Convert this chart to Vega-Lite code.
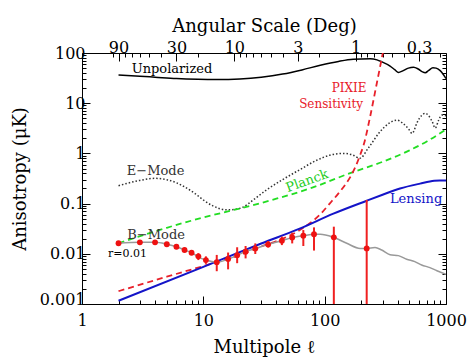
{
  "$schema": "https://vega.github.io/schema/vega-lite/v6.json",
  "width": 364,
  "height": 251,
  "autosize": "none",
  "padding": {"left": 82, "top": 53, "right": 28, "bottom": 58},
  "background": "white",
  "config": {
    "view": {"stroke": "black", "strokeWidth": 1},
    "font": "DejaVu Serif",
    "axis": {"grid": false, "domain": false, "labelFont": "DejaVu Serif", "titleFont": "DejaVu Serif", "labelFontSize": 16, "titleFontSize": 18, "titleFontWeight": "normal", "labelColor": "black", "titleColor": "black", "tickColor": "black", "labelOverlap": false, "labelFlush": false, "format": "~g"}
  },
  "datasets": {
    "tt": [
      {"l": 2, "v": 36.5}, {"l": 3, "v": 34.5}, {"l": 4, "v": 33}, {"l": 6, "v": 31}, {"l": 9, "v": 30}, {"l": 13, "v": 29.7}, {"l": 20, "v": 30.5}, {"l": 30, "v": 33}, {"l": 45, "v": 38}, {"l": 65, "v": 46}, {"l": 92, "v": 57}, {"l": 130, "v": 68}, {"l": 172, "v": 75}, {"l": 237, "v": 77}, {"l": 270, "v": 73}, {"l": 295, "v": 67}, {"l": 346, "v": 55}, {"l": 380, "v": 46}, {"l": 406, "v": 41}, {"l": 440, "v": 44}, {"l": 490, "v": 50}, {"l": 540, "v": 52}, {"l": 590, "v": 48}, {"l": 640, "v": 42}, {"l": 675, "v": 40.5}, {"l": 720, "v": 45}, {"l": 780, "v": 51}, {"l": 830, "v": 50}, {"l": 900, "v": 44}, {"l": 960, "v": 36}, {"l": 1000, "v": 31}
    ],
    "ee": [
      {"l": 2, "v": 0.227}, {"l": 3, "v": 0.29}, {"l": 4, "v": 0.319}, {"l": 5, "v": 0.30}, {"l": 6, "v": 0.26}, {"l": 7, "v": 0.215}, {"l": 8.5, "v": 0.16}, {"l": 10, "v": 0.118}, {"l": 12, "v": 0.09}, {"l": 15.6, "v": 0.075}, {"l": 19, "v": 0.078}, {"l": 21, "v": 0.084}, {"l": 26, "v": 0.12}, {"l": 33, "v": 0.186}, {"l": 45, "v": 0.30}, {"l": 62, "v": 0.47}, {"l": 85, "v": 0.72}, {"l": 110, "v": 0.92}, {"l": 142, "v": 1.0}, {"l": 170, "v": 0.93}, {"l": 195, "v": 0.8}, {"l": 230, "v": 1.3}, {"l": 286, "v": 2.7}, {"l": 340, "v": 4.0}, {"l": 392, "v": 4.6}, {"l": 440, "v": 4.0}, {"l": 490, "v": 3.1}, {"l": 525, "v": 2.5}, {"l": 580, "v": 4.2}, {"l": 630, "v": 5.7}, {"l": 675, "v": 6.3}, {"l": 720, "v": 5.6}, {"l": 770, "v": 4.3}, {"l": 815, "v": 3.2}, {"l": 870, "v": 4.6}, {"l": 923, "v": 5.8}, {"l": 1000, "v": 5.6}
    ],
    "planck": [
      {"l": 2, "v": 0.0162}, {"l": 5, "v": 0.033}, {"l": 10, "v": 0.053}, {"l": 20, "v": 0.08}, {"l": 40, "v": 0.125}, {"l": 80, "v": 0.21}, {"l": 160, "v": 0.40}, {"l": 300, "v": 0.68}, {"l": 500, "v": 1.15}, {"l": 700, "v": 1.75}, {"l": 1000, "v": 3.0}
    ],
    "pixie": [
      {"l": 2, "v": 0.0018}, {"l": 5, "v": 0.0035}, {"l": 10, "v": 0.0057}, {"l": 20, "v": 0.0095}, {"l": 30, "v": 0.014}, {"l": 45, "v": 0.020}, {"l": 60, "v": 0.028}, {"l": 75, "v": 0.040}, {"l": 90, "v": 0.058}, {"l": 110, "v": 0.10}, {"l": 130, "v": 0.16}, {"l": 150, "v": 0.25}, {"l": 165, "v": 0.36}, {"l": 180, "v": 0.55}, {"l": 195, "v": 0.9}, {"l": 210, "v": 1.5}, {"l": 237, "v": 5.4}, {"l": 269, "v": 25}, {"l": 305, "v": 115}
    ],
    "lensing": [
      {"l": 2, "v": 0.00116}, {"l": 10, "v": 0.0055}, {"l": 30, "v": 0.016}, {"l": 63, "v": 0.032}, {"l": 118, "v": 0.063}, {"l": 222, "v": 0.114}, {"l": 300, "v": 0.15}, {"l": 418, "v": 0.2}, {"l": 611, "v": 0.25}, {"l": 800, "v": 0.285}, {"l": 890, "v": 0.29}, {"l": 1000, "v": 0.29}
    ],
    "bb": [
      {"l": 2, "v": 0.0162}, {"l": 3, "v": 0.0169}, {"l": 4, "v": 0.0169}, {"l": 5, "v": 0.0155}, {"l": 6, "v": 0.0138}, {"l": 7, "v": 0.0119}, {"l": 8, "v": 0.0105}, {"l": 9, "v": 0.0088}, {"l": 10.5, "v": 0.0075}, {"l": 12.9, "v": 0.0068}, {"l": 16, "v": 0.0078}, {"l": 19, "v": 0.0093}, {"l": 22, "v": 0.011}, {"l": 27, "v": 0.0127}, {"l": 34, "v": 0.0154}, {"l": 44, "v": 0.0182}, {"l": 54, "v": 0.021}, {"l": 67, "v": 0.023}, {"l": 82, "v": 0.0245}, {"l": 92, "v": 0.0245}, {"l": 118, "v": 0.0213}, {"l": 152, "v": 0.0162}, {"l": 196, "v": 0.0128}, {"l": 222, "v": 0.0128}, {"l": 260, "v": 0.0133}, {"l": 295, "v": 0.0119}, {"l": 346, "v": 0.0096}, {"l": 405, "v": 0.0092}, {"l": 474, "v": 0.0078}, {"l": 553, "v": 0.0070}, {"l": 630, "v": 0.0060}, {"l": 737, "v": 0.0053}, {"l": 842, "v": 0.0046}, {"l": 1000, "v": 0.0039}
    ],
    "points": [
      {"l": 2, "v": 0.0162, "lo": 0.0158, "hi": 0.0166},
      {"l": 3, "v": 0.0169, "lo": 0.0165, "hi": 0.0173},
      {"l": 4, "v": 0.0169, "lo": 0.0165, "hi": 0.0173},
      {"l": 5, "v": 0.0155, "lo": 0.0150, "hi": 0.0160},
      {"l": 6, "v": 0.0138, "lo": 0.0132, "hi": 0.0144},
      {"l": 7, "v": 0.0119, "lo": 0.0112, "hi": 0.0127},
      {"l": 8, "v": 0.0105, "lo": 0.0096, "hi": 0.0115},
      {"l": 9.1, "v": 0.0089, "lo": 0.0075, "hi": 0.0103},
      {"l": 10.5, "v": 0.0075, "lo": 0.0063, "hi": 0.0089},
      {"l": 12.9, "v": 0.0068, "lo": 0.0045, "hi": 0.0095},
      {"l": 16, "v": 0.0079, "lo": 0.0049, "hi": 0.0106},
      {"l": 19, "v": 0.0094, "lo": 0.0065, "hi": 0.0135},
      {"l": 22.3, "v": 0.011, "lo": 0.0081, "hi": 0.0143},
      {"l": 26.8, "v": 0.0127, "lo": 0.0099, "hi": 0.0161},
      {"l": 34.2, "v": 0.0154, "lo": 0.0133, "hi": 0.018},
      {"l": 44.4, "v": 0.0182, "lo": 0.0149, "hi": 0.022},
      {"l": 54, "v": 0.0211, "lo": 0.0161, "hi": 0.0263},
      {"l": 66.7, "v": 0.023, "lo": 0.0143, "hi": 0.0297},
      {"l": 81.7, "v": 0.0245, "lo": 0.0116, "hi": 0.0336},
      {"l": 119, "v": 0.0213, "lo": 0.0005, "hi": 0.0347},
      {"l": 222, "v": 0.0128, "lo": 0.0005, "hi": 0.118}
    ],
    "labels": [
      {"text": "Unpolarized", "l": 5.52, "v": 48},
      {"text": "PIXIE", "l": 159, "v": 20.1},
      {"text": "Sensitivity", "l": 113, "v": 9.6},
      {"text": "E−Mode", "l": 4.04, "v": 0.446},
      {"text": "Planck", "l": 71.6, "v": 0.282},
      {"text": "Lensing", "l": 567, "v": 0.124},
      {"text": "B−Mode", "l": 4.08, "v": 0.0237},
      {"text": "r=0.01", "l": 2.37, "v": 0.0101}
    ],
    "axisdummy": [{"theta": 1, "v": 1}]
  },
  "layer": [
    {
      "encoding": {
        "x": {"field": "l", "type": "quantitative", "scale": {"type": "log", "domain": [1, 1000], "nice": false},
          "axis": {"orient": "bottom", "title": "Multipole ℓ", "values": [1,2,3,4,5,6,7,8,9,10,20,30,40,50,60,70,80,90,100,200,300,400,500,600,700,800,900,1000],
            "labelExpr": "abs(log(datum.value)/LN10 - round(log(datum.value)/LN10)) < 0.001 ? datum.label : ''",
            "tickSize": {"condition": {"test": "abs(log(datum.value)/LN10 - round(log(datum.value)/LN10)) < 0.001", "value": -8}, "value": -4},
            "labelPadding": 16, "titlePadding": 6}},
        "y": {"field": "v", "type": "quantitative", "scale": {"type": "log", "domain": [0.001, 100], "nice": false},
          "axis": {"orient": "left", "title": "Anisotropy (μK)", "values": [0.001,0.002,0.003,0.004,0.005,0.006,0.007,0.008,0.009,0.01,0.02,0.03,0.04,0.05,0.06,0.07,0.08,0.09,0.1,0.2,0.3,0.4,0.5,0.6,0.7,0.8,0.9,1,2,3,4,5,6,7,8,9,10,20,30,40,50,60,70,80,90,100],
            "labelExpr": "abs(log(datum.value)/LN10 - round(log(datum.value)/LN10)) < 0.001 ? datum.label : ''",
            "labelBaseline": {"condition": {"test": "datum.value === 0.001", "value": "alphabetic"}, "value": "middle"},
            "tickSize": {"condition": {"test": "abs(log(datum.value)/LN10 - round(log(datum.value)/LN10)) < 0.001", "value": -8}, "value": -4},
            "labelPadding": 5, "titlePadding": 10}}
      },
      "layer": [
        {"data": {"name": "tt"}, "mark": {"type": "line", "color": "black", "strokeWidth": 1.5, "interpolate": "monotone", "clip": true}},
        {"data": {"name": "ee"}, "mark": {"type": "line", "color": "#333333", "strokeWidth": 1.5, "strokeDash": [1.5, 2], "interpolate": "monotone", "clip": true}},
        {"data": {"name": "planck"}, "mark": {"type": "line", "color": "#22dd22", "strokeWidth": 1.8, "strokeDash": [6, 4], "interpolate": "monotone", "clip": true}},
        {"data": {"name": "pixie"}, "mark": {"type": "line", "color": "#e8202a", "strokeWidth": 1.8, "strokeDash": [6, 4], "interpolate": "monotone", "clip": true}},
        {"data": {"name": "lensing"}, "mark": {"type": "line", "color": "#1414c8", "strokeWidth": 2, "interpolate": "monotone", "clip": true}},
        {"data": {"name": "bb"}, "mark": {"type": "line", "color": "#999999", "strokeWidth": 1.5, "interpolate": "monotone", "clip": true}},
        {"data": {"name": "points"}, "mark": {"type": "rule", "color": "#f02020", "strokeWidth": 2, "clip": true},
          "encoding": {"y": {"field": "lo", "type": "quantitative"}, "y2": {"field": "hi"}}},
        {"data": {"name": "points"}, "mark": {"type": "point", "filled": true, "color": "#ee1111", "size": 34, "opacity": 1, "clip": true}},
        {"data": {"name": "labels"}, "mark": {"type": "text", "align": "center", "baseline": "middle", "font": "DejaVu Serif"},
          "encoding": {
            "text": {"field": "text"},
            "color": {"field": "text", "type": "nominal", "legend": null, "scale": {"domain": ["Unpolarized", "PIXIE", "Sensitivity", "E−Mode", "Planck", "Lensing", "B−Mode", "r=0.01"], "range": ["#000000", "#e8202a", "#e8202a", "#333333", "#22cc22", "#1414c8", "#333333", "#000000"]}},
            "size": {"condition": [{"test": "datum.text === 'r=0.01'", "value": 11}, {"test": "datum.text === 'PIXIE' || datum.text === 'Sensitivity'", "value": 12}], "value": 13},
            "angle": {"condition": {"test": "datum.text === 'Planck'", "value": -20}, "value": 0}
          }}
      ]
    },
    {
      "data": {"name": "axisdummy"},
      "mark": {"type": "point", "opacity": 0},
      "encoding": {
        "x": {"field": "theta", "type": "quantitative", "scale": {"type": "log", "domain": [0.18, 180], "reverse": true, "nice": false},
          "axis": {"orient": "top", "title": "Angular Scale (Deg)", "values": [0.2,0.3,0.4,0.5,0.6,0.7,0.8,0.9,1,2,3,4,5,6,7,8,9,10,20,30,40,50,60,70,80,90,100],
            "labelExpr": "indexof([90,30,10,3,1,0.3], datum.value) >= 0 ? datum.label : ''",
            "tickSize": {"condition": {"test": "indexof([90,30,10,3,1,0.3], datum.value) >= 0", "value": -8}, "value": -4},
            "labelPadding": 6, "titlePadding": 0}},
        "y": {"field": "v", "type": "quantitative", "scale": {"type": "log", "domain": [0.001, 100], "nice": false},
          "axis": {"orient": "right", "title": null, "labels": false, "values": [0.001,0.002,0.003,0.004,0.005,0.006,0.007,0.008,0.009,0.01,0.02,0.03,0.04,0.05,0.06,0.07,0.08,0.09,0.1,0.2,0.3,0.4,0.5,0.6,0.7,0.8,0.9,1,2,3,4,5,6,7,8,9,10,20,30,40,50,60,70,80,90,100],
            "tickSize": {"condition": {"test": "abs(log(datum.value)/LN10 - round(log(datum.value)/LN10)) < 0.001", "value": -8}, "value": -4}}}
      }
    }
  ],
  "resolve": {"scale": {"x": "independent", "y": "independent"}, "axis": {"x": "independent", "y": "independent"}}
}
